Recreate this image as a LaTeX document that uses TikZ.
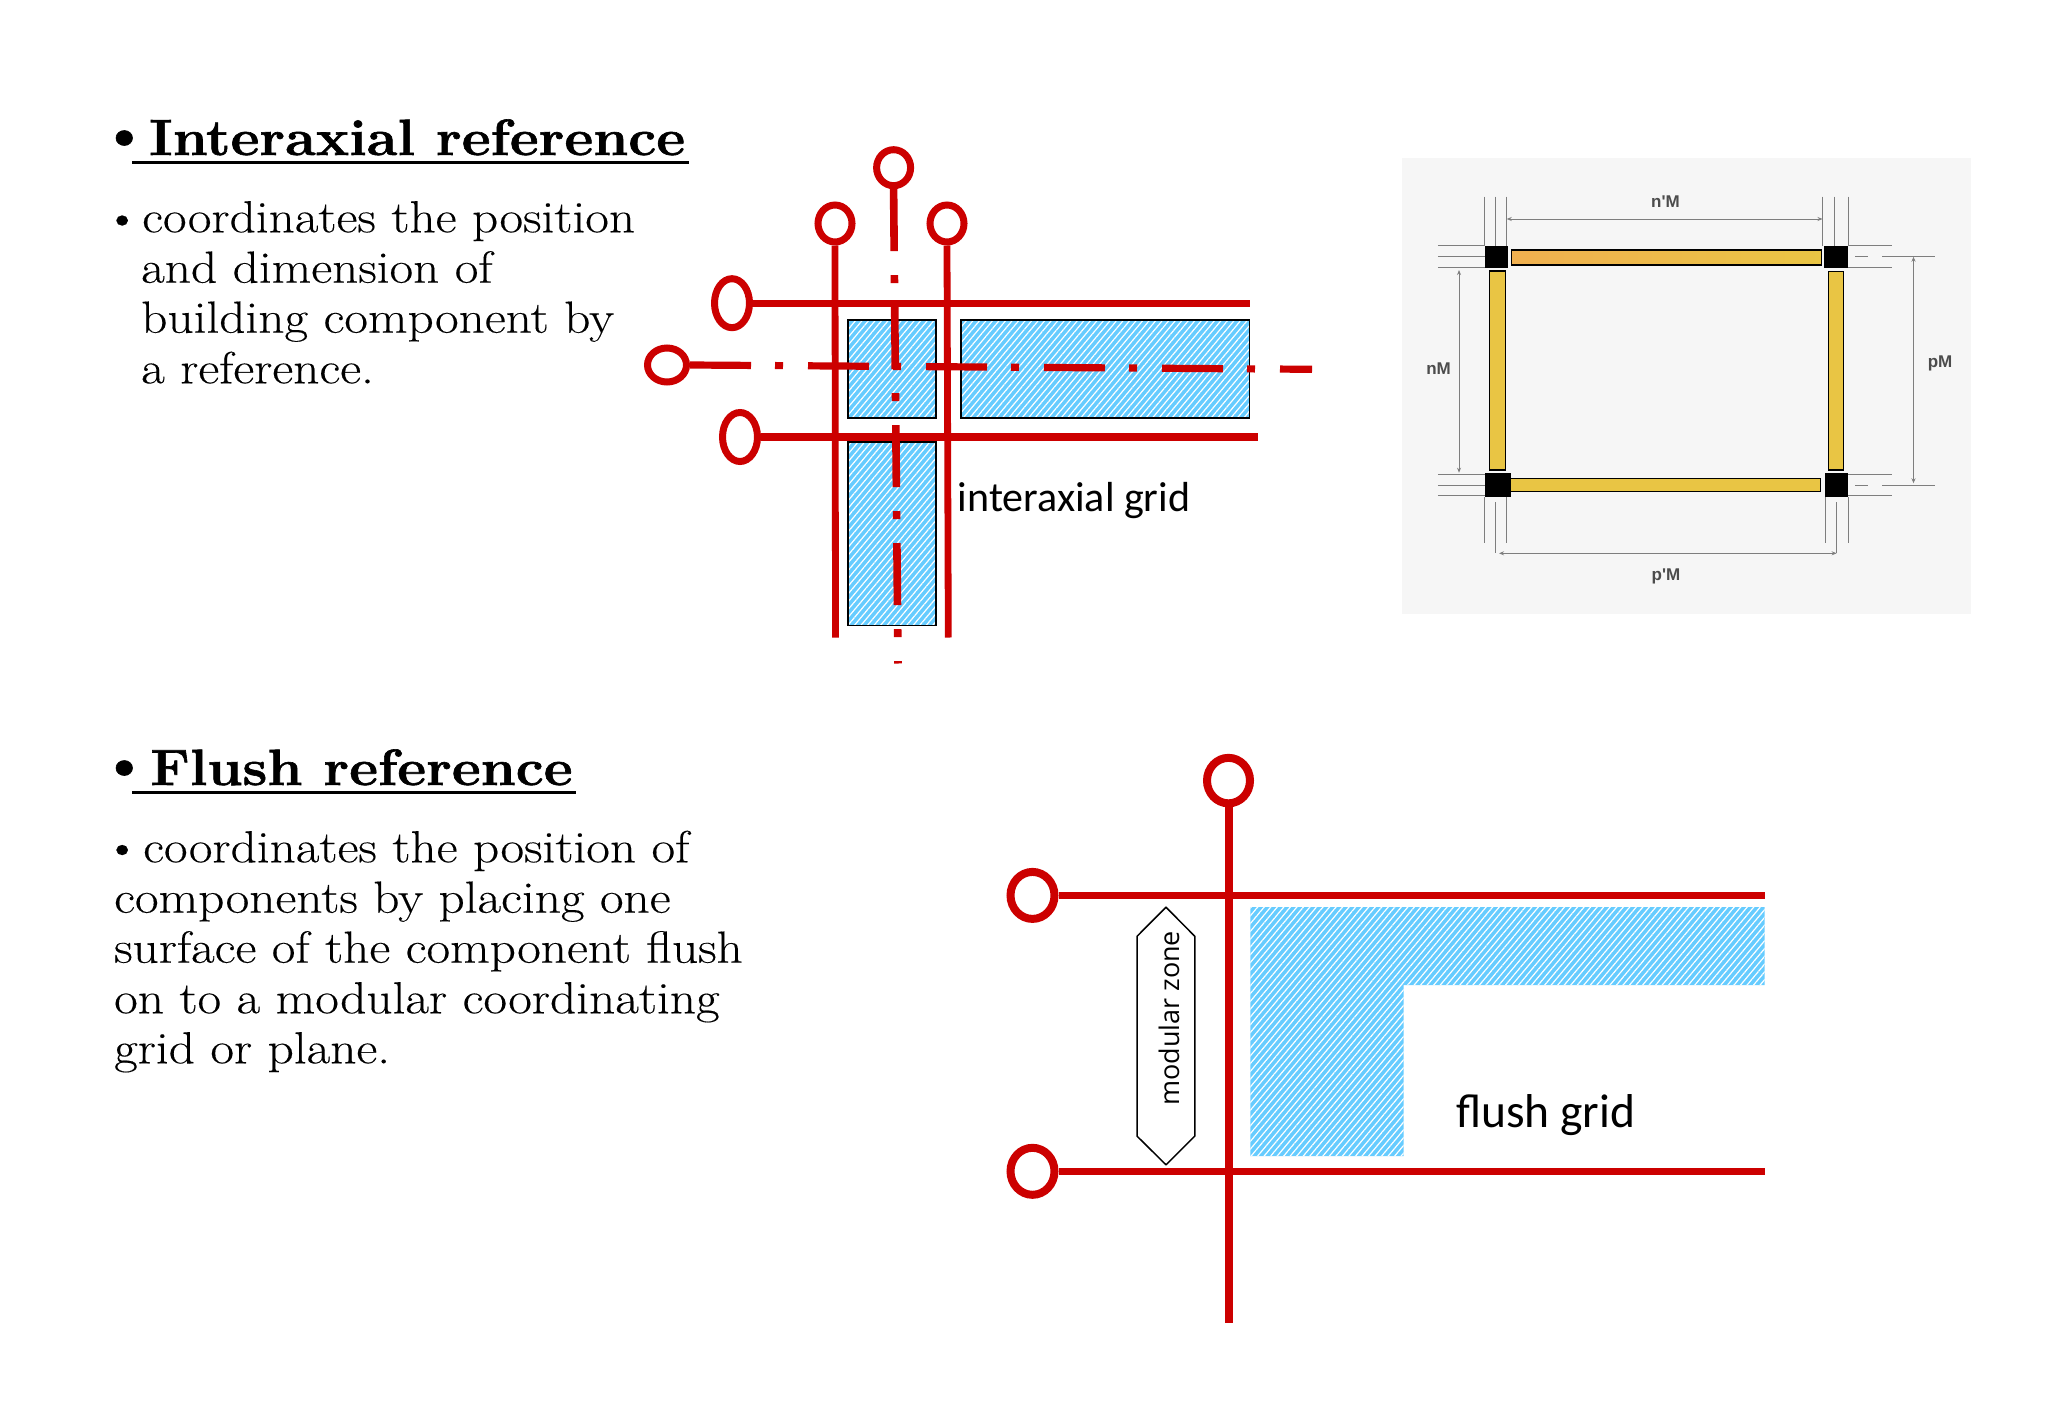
\documentclass[tikz,border=0pt]{standalone}
\usepackage{fontspec}
\usetikzlibrary{shapes.geometric,patterns.meta,arrows.meta}
\newfontfamily\calfont{Carlito}
\newfontfamily\zonefont{Open Sans}
\newfontfamily\dimfont{Liberation Sans}
\newfontfamily\bodyfont[FakeStretch=1.14,FakeBold=0.25]{Latin Modern Roman}
\newfontfamily\headfont[FakeStretch=1.1,BoldFeatures={FakeBold=1.2}]{Latin Modern Roman}
\definecolor{gridred}{HTML}{CC0000}
\definecolor{hatchblue}{HTML}{66CCFF}
\definecolor{panelgrey}{HTML}{F6F6F6}
\definecolor{dimgrey}{HTML}{7E7E7E}
\definecolor{wallgold}{HTML}{E9C544}
\definecolor{wallorange}{HTML}{F0B050}
\tikzset{
  bubble/.style={shape=ellipse,draw=gridred,fill=white,line width=7pt,inner sep=0pt},
  grid line/.style={draw=gridred,line width=7.2pt},
  grid vline/.style={draw=gridred,line width=6.8pt},
  hatched/.style={fill=hatchblue,postaction={pattern={Lines[angle=50,distance=5pt,line width=1.2pt]},pattern color=white}},
  framed/.style={postaction={draw=black,line width=1.6pt}},
  bodytext/.style={anchor=base west,inner sep=0pt,font=\bodyfont\fontsize{45}{45}\selectfont},
  headtext/.style={anchor=base west,inner sep=0pt,font=\headfont\bfseries\fontsize{51}{51}\selectfont},
  wall/.style={draw=black,line width=1.4pt},
  post/.style={fill=black,draw=none},
  thin grey/.style={draw=dimgrey,line width=1pt},
  dim line/.style={draw=dimgrey,line width=1pt,{Stealth[length=5pt,width=4pt]}-{Stealth[length=5pt,width=4pt]}},
  dim label/.style={font=\dimfont\bfseries\fontsize{17}{17}\selectfont,text=black!70,inner sep=0pt}
}
\begin{document}
\begin{tikzpicture}[x=1pt,y=-1pt]
\useasboundingbox (0,0) rectangle (2048,1418);
\fill[white] (0,0) rectangle (2048,1418);

% ---- left text, top
\node[headtext] (h1) at (99.5,150) {•};
\node[headtext] (h1t) at (149,155) {Interaxial reference};
\draw[line width=2.5pt] (132,162.7) -- (689,162.7);
\node[bodytext] (b1) at (103.5,232.5) {•};
\node[bodytext] (b1a) at (142,232.3) {coordinates the position};
\node[bodytext] (b1b) at (141,282.7) {and dimension of};
\node[bodytext] (b1c) at (141,332.7) {building component by};
\node[bodytext] (b1d) at (141,383.3) {a reference.};

% ---- left text, bottom
\node[headtext] (h2) at (99.5,780) {•};
\node[headtext] (h2t) at (150,785) {Flush reference};
\draw[line width=2.5pt] (132,792.7) -- (575.7,792.7);
\node[bodytext] (b2) at (103.5,862) {•};
\node[bodytext] (b2a) at (143,862.3) {coordinates the position of};
\node[bodytext] (b2b) at (114,912.7) {components by placing one};
\node[bodytext] (b2c) at (114,962.7) {surface of the component flush};
\node[bodytext] (b2d) at (114,1013.3) {on to a modular coordinating};
\node[bodytext] (b2e) at (114,1063.3) {grid or plane.};

% ---- interaxial grid
\path[hatched,framed] (848.2,320) rectangle (935.9,418);
\path[hatched,framed] (960.7,320) rectangle (1249.5,418);
\path[hatched,framed] (848.2,442) rectangle (935.9,625.5);

\node[bubble,minimum width=34pt,minimum height=36pt] (vm) at (893.6,167.7) {};
\node[bubble,minimum width=34pt,minimum height=37pt] (vl) at (835,223.5) {};
\node[bubble,minimum width=34pt,minimum height=37pt] (vr) at (947,223.5) {};
\node[bubble,minimum width=35pt,minimum height=49pt] (ht) at (732,303.2) {};
\node[bubble,minimum width=35pt,minimum height=49pt] (hb) at (740,437) {};
\node[bubble,minimum width=39pt,minimum height=34pt] (hm) at (667,365) {};
\coordinate (vle) at (835.5,637.5);
\coordinate (vre) at (948.3,637.5);
\coordinate (hte) at (1250,303.2);
\coordinate (hbe) at (1258,437);
\coordinate (hme) at (1312,369.3);
\coordinate (vme) at (898,663.5);

\draw[grid vline] (vl.south) -- (vle);
\draw[grid vline] (vr.south) -- (vre);
\draw[grid line] (ht.east) -- (hte);
\draw[grid line] (hb.east) -- (hbe);
\draw[grid line,dash pattern=on 61pt off 24pt on 8pt off 25pt] (hm.east) -- (hme);
\draw[draw=gridred,line width=7.6pt,dash pattern=on 62pt off 24pt on 8pt off 24pt] (vm.south) -- (vme);
\node[anchor=base west,inner sep=0pt,font=\calfont\fontsize{42}{42}\selectfont] (igl) at (957.5,511) {interaxial grid};

% ---- wall plan panel
\fill[panelgrey] (1401.5,158.3) rectangle (1970.6,614.3);
\foreach \x in {1484.5,1495.2,1506.7,1822.8,1834.3,1848} \draw[thin grey] (\x,196.7) -- (\x,246);
\foreach \x in {1484.5,1506.7,1825,1848} \draw[thin grey] (\x,497) -- (\x,543.3);
\foreach \x in {1495.2,1836.6} \draw[thin grey] (\x,502) -- (\x,553.3);
\foreach \y in {245.7,256.7,267.3,474,485,495.7} \draw[thin grey] (1437.8,\y) -- (1485,\y);
\foreach \y in {245.7,267.3,474,495.7} \draw[thin grey] (1848,\y) -- (1892,\y);
\foreach \y in {256.7,485} {\draw[thin grey] (1855,\y) -- (1868,\y); \draw[thin grey] (1882,\y) -- (1935,\y);}
\path[wall,left color=wallorange,right color=wallgold] (1511.7,250) rectangle (1821.3,265);
\path[wall,fill=wallgold] (1510.5,478.3) rectangle (1820.5,491.7);
\path[wall,fill=wallgold] (1489.5,271) rectangle (1505.6,470);
\path[wall,fill=wallgold] (1828.2,271.7) rectangle (1843.5,470);
\path[post] (1484.5,245.7) rectangle (1507.5,268.3);
\path[post] (1823.6,245.7) rectangle (1848,268.3);
\path[post] (1484.5,473.3) rectangle (1510.5,496.7);
\path[post] (1824.7,473.3) rectangle (1848,496.7);
\coordinate (d1a) at (1506.7,219); \coordinate (d1b) at (1822.5,219);
\coordinate (d2a) at (1499,553.3); \coordinate (d2b) at (1836.6,553.3);
\coordinate (d3a) at (1459,270); \coordinate (d3b) at (1459,472.7);
\coordinate (d4a) at (1913.5,256.7); \coordinate (d4b) at (1913.5,483.3);
\draw[dim line] (d1a) -- (d1b);
\draw[dim line] (d2a) -- (d2b);
\draw[dim line] (d3a) -- (d3b);
\draw[dim line] (d4a) -- (d4b);
\node[dim label] (lnp) at (1665.5,202) {n'M};
\node[dim label] (lpp) at (1666,576) {p'M};
\node[dim label] (ln) at (1438.6,368.3) {nM};
\node[dim label] (lp) at (1940,363.3) {pM};

% ---- flush grid
\path[hatched] (1250.4,907.2) -- (1764.7,907.2) -- (1764.7,985) -- (1403.5,985) -- (1403.5,1156) -- (1250.4,1156) -- cycle;
\tikzset{fbubble/.style={bubble,line width=8pt,minimum width=43pt,minimum height=45.5pt}}
\node[fbubble] (fv) at (1228.5,780.6) {};
\node[fbubble,minimum width=44pt,minimum height=47pt] (ft) at (1032.5,895.4) {};
\node[fbubble,minimum width=44pt,minimum height=47pt] (fb) at (1032.5,1171.3) {};
\coordinate (fve) at (1228.5,1322.9);
\coordinate (fte) at (1764.7,895.4);
\coordinate (fbe) at (1764.7,1171.3);
\draw[grid line] (ft.east) -- (fte);
\draw[grid line] (fb.east) -- (fbe);
\draw[draw=gridred,line width=8pt] (fv.south) -- (fve);
\draw[fill=white,line width=1.5pt,line join=round] (1166,907.2) -- (1194.8,936.3) -- (1194.8,1136.1) -- (1166,1164.8) -- (1137,1136.1) -- (1137,936.3) -- cycle;
\node[rotate=90,inner sep=0pt,font=\zonefont\fontsize{27}{27}\selectfont] (mz) at (1169,1018.4) {modular zone};
\node[anchor=base west,inner sep=0pt,font=\calfont\fontsize{47.5}{47.5}\selectfont] (fgl) at (1456,1127.5) {flush grid};
\end{tikzpicture}
\end{document}
